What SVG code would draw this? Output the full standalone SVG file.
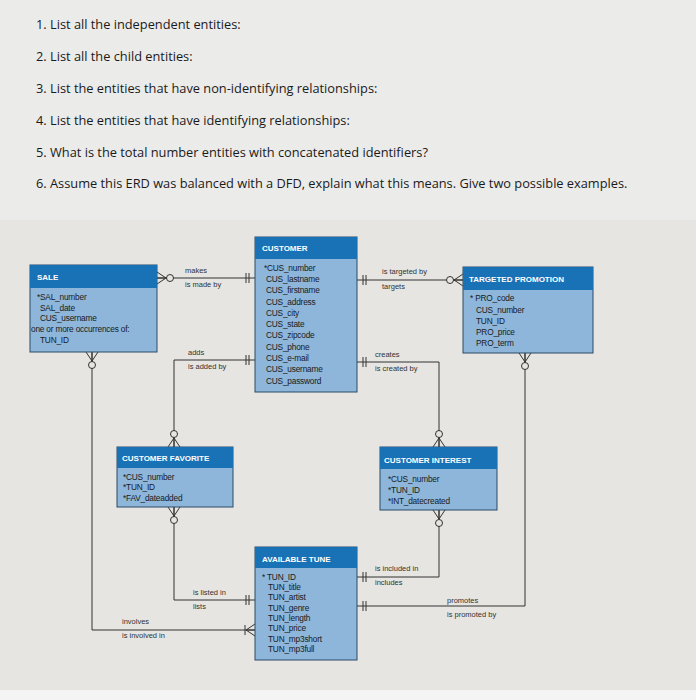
<svg xmlns="http://www.w3.org/2000/svg" xmlns:xlink="http://www.w3.org/1999/xlink" width="696" height="700" viewBox="0 0 696 700">
<style>
.q{font-family:"Open Sans",sans-serif;font-size:12.8px;fill:#1a1a1a}
.h{font-family:"Liberation Sans",Arial,sans-serif;font-size:8px;font-weight:bold;fill:#fff}
.a{font-family:"Liberation Sans",Arial,sans-serif;font-size:8.3px;fill:#1a1a1a;letter-spacing:-0.2px}
.l{font-family:"Liberation Sans",Arial,sans-serif;font-size:7.5px;fill:#333}
.hd{fill:#1a72b6}
.bd{fill:#8db6da;stroke:#2a4a66;stroke-width:1}
.c{fill:none;stroke:#333;stroke-width:1}
</style>
<defs>
<g id="crow" class="c"><path d="M0 9L-6 0M0 9L0 0M0 9L6 0M0 9V17"/><circle cx="0" cy="13" r="3.5" fill="#e6e5e1"/></g>
<g id="crowbar" class="c"><path d="M0 9L-6 0M0 9L0 0M0 9L6 0M-5 10H5"/></g>
<g id="bars" class="c"><path d="M-5 6H5M-5 9H5"/></g>
</defs>
<rect width="696" height="700" fill="#e6e5e1"/>
<rect width="696" height="220" fill="#ebebea"/>
<rect y="690" width="696" height="10" fill="#f4f4f4"/>
<g id="questions">
<text class="q" x="36" y="29">1.  List all the independent entities:</text>
<text class="q" x="36" y="61">2.  List all the child entities:</text>
<text class="q" x="36" y="93">3.  List the entities that have non-identifying relationships:</text>
<text class="q" x="36" y="125">4.  List the entities that have identifying relationships:</text>
<text class="q" x="36" y="157">5.  What is the total number entities with concatenated identifiers?</text>
<text class="q" x="36" y="188">6.  Assume this ERD was balanced with a DFD, explain what this means. Give two possible examples.</text>
</g>
<g id="connectors">
<path class="c" d="M157 278H255"/>
<use href="#crow" transform="translate(157,278) rotate(-90)"/>
<use href="#bars" transform="translate(255,278) rotate(90)"/>
<path class="c" d="M255 360H174V447"/>
<use href="#bars" transform="translate(255,360) rotate(90)"/>
<use href="#crow" transform="translate(174,447) rotate(180)"/>
<path class="c" d="M174 507V600H255"/>
<use href="#crow" transform="translate(174,507)"/>
<use href="#bars" transform="translate(255,600) rotate(90)"/>
<path class="c" d="M92 352V630H255"/>
<use href="#crow" transform="translate(92,352)"/>
<use href="#crowbar" transform="translate(255,630) rotate(90)"/>
<path class="c" d="M357 280H463"/>
<use href="#bars" transform="translate(357,280) rotate(-90)"/>
<use href="#crow" transform="translate(463,280) rotate(90)"/>
<path class="c" d="M357 362H439V447"/>
<use href="#bars" transform="translate(357,362) rotate(-90)"/>
<use href="#crow" transform="translate(439,447) rotate(180)"/>
<path class="c" d="M439 510V577H357"/>
<use href="#crow" transform="translate(439,510)"/>
<use href="#bars" transform="translate(357,577) rotate(-90)"/>
<path class="c" d="M525 353V606H357"/>
<use href="#crow" transform="translate(525,353)"/>
<use href="#bars" transform="translate(357,606) rotate(-90)"/>
<text class="l" x="185" y="273">makes</text><text class="l" x="185" y="287">is made by</text>
<text class="l" x="188" y="355">adds</text><text class="l" x="188" y="369">is added by</text>
<text class="l" x="193" y="595">is listed in</text><text class="l" x="193" y="609">lists</text>
<text class="l" x="122" y="624">involves</text><text class="l" x="122" y="638">is involved in</text>
<text class="l" x="382" y="274">is targeted by</text><text class="l" x="382" y="289">targets</text>
<text class="l" x="375" y="357">creates</text><text class="l" x="375" y="371">is created by</text>
<text class="l" x="375" y="571">is included in</text><text class="l" x="375" y="585">includes</text>
<text class="l" x="447" y="603">promotes</text><text class="l" x="447" y="617">is promoted by</text>
</g>
<g id="customer">
<rect class="bd" x="255" y="237" width="102" height="155"/>
<rect class="hd" x="255" y="237" width="102" height="22"/>
<text class="h" x="262" y="251">CUSTOMER</text>
<text class="a" x="264" y="271">*CUS_number</text>
<text class="a" x="266" y="282">CUS_lastname</text>
<text class="a" x="266" y="293">CUS_firstname</text>
<text class="a" x="266" y="305">CUS_address</text>
<text class="a" x="266" y="316">CUS_city</text>
<text class="a" x="266" y="327">CUS_state</text>
<text class="a" x="266" y="338">CUS_zipcode</text>
<text class="a" x="266" y="350">CUS_phone</text>
<text class="a" x="266" y="361">CUS_e-mail</text>
<text class="a" x="266" y="372">CUS_username</text>
<text class="a" x="266" y="384">CUS_password</text>
</g>
<g id="sale">
<rect class="bd" x="30" y="265" width="127" height="87"/>
<rect class="hd" x="30" y="265" width="127" height="23"/>
<text class="h" x="37" y="280">SALE</text>
<text class="a" x="37" y="300">*SAL_number</text>
<text class="a" x="40" y="311">SAL_date</text>
<text class="a" x="40" y="321">CUS_username</text>
<text class="a" x="31" y="332" font-size="7.6">one or more occurrences of:</text>
<text class="a" x="40" y="343">TUN_ID</text>
</g>
<g id="targeted-promotion">
<rect class="bd" x="463" y="267" width="130" height="86"/>
<rect class="hd" x="463" y="267" width="130" height="23"/>
<text class="h" x="469" y="282">TARGETED PROMOTION</text>
<text class="a" x="470" y="301">* PRO_code</text>
<text class="a" x="476" y="313">CUS_number</text>
<text class="a" x="476" y="324">TUN_ID</text>
<text class="a" x="476" y="335">PRO_price</text>
<text class="a" x="476" y="346">PRO_term</text>
</g>
<g id="customer-favorite">
<rect class="bd" x="117" y="447" width="116" height="60"/>
<rect class="hd" x="117" y="447" width="116" height="21"/>
<text class="h" x="122" y="461">CUSTOMER FAVORITE</text>
<text class="a" x="123" y="480">*CUS_number</text>
<text class="a" x="123" y="490">*TUN_ID</text>
<text class="a" x="123" y="501">*FAV_dateadded</text>
</g>
<g id="customer-interest">
<rect class="bd" x="380" y="447" width="117" height="63"/>
<rect class="hd" x="380" y="447" width="117" height="22"/>
<text class="h" x="384" y="463">CUSTOMER INTEREST</text>
<text class="a" x="388" y="482">*CUS_number</text>
<text class="a" x="388" y="493">*TUN_ID</text>
<text class="a" x="388" y="504">*INT_datecreated</text>
</g>
<g id="available-tune">
<rect class="bd" x="255" y="547" width="102" height="113"/>
<rect class="hd" x="255" y="547" width="102" height="21"/>
<text class="h" x="262" y="562">AVAILABLE TUNE</text>
<text class="a" x="262" y="580">* TUN_ID</text>
<text class="a" x="268" y="590">TUN_title</text>
<text class="a" x="268" y="600">TUN_artist</text>
<text class="a" x="268" y="611">TUN_genre</text>
<text class="a" x="268" y="621">TUN_length</text>
<text class="a" x="268" y="631">TUN_price</text>
<text class="a" x="268" y="642">TUN_mp3short</text>
<text class="a" x="268" y="652">TUN_mp3full</text>
</g>
</svg>
